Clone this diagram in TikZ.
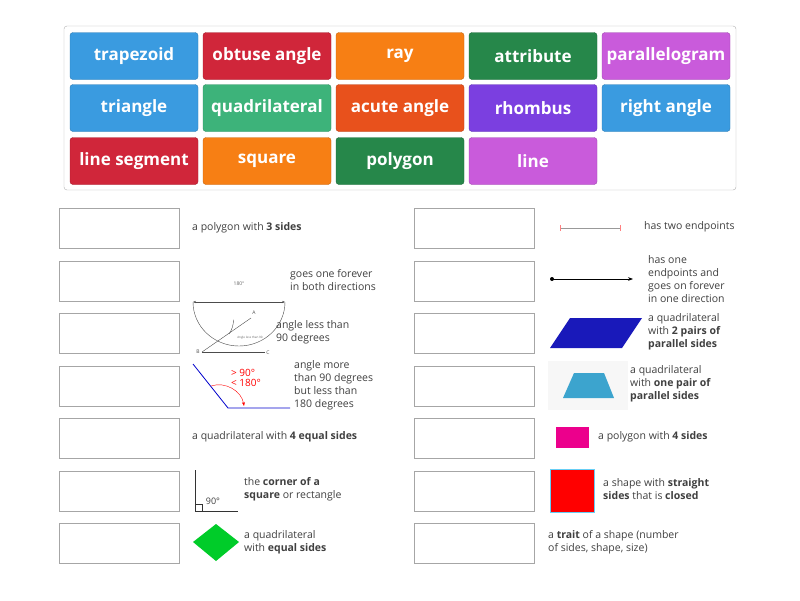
\documentclass[tikz,border=0pt]{standalone}
\usepackage{fontspec}
\setmainfont{Open Sans}
\usetikzlibrary{arrows.meta}
\definecolor{cblue}{HTML}{3A9BE0}
\definecolor{cred}{HTML}{D0263A}
\definecolor{corange}{HTML}{F77F14}
\definecolor{cgreen}{HTML}{26874A}
\definecolor{cviolet}{HTML}{C95BDB}
\definecolor{cteal}{HTML}{3DB37A}
\definecolor{cacute}{HTML}{E8511C}
\definecolor{cpurple}{HTML}{7B3FE0}
\definecolor{txt}{HTML}{404040}
\tikzset{
 tile/.style={draw=#1!80!black,fill=#1,rounded corners=3pt,minimum width=128pt,minimum height=47pt,text=white,font=\fontsize{17}{20}\selectfont\bfseries,inner sep=0pt},
 slot/.style={draw=black!35,minimum width=120pt,minimum height=40pt,inner sep=0pt},
 lbl/.style={text=txt,font=\fontsize{10.5}{13}\selectfont,align=left,anchor=west,inner sep=0pt}
}
\begin{document}
\begin{tikzpicture}[x=1pt,y=-1pt]
\useasboundingbox (0,0) rectangle (800,600);
\fill[white] (0,0) rectangle (800,600);
\draw[black!30,rounded corners=3pt] (64,26) rectangle (736,190);
\foreach \n/\t/\c/\x/\y in {
 a/trapezoid/cblue/134/56, b/obtuse angle/cred/267/56, c/ray/corange/400/56, d/attribute/cgreen/533/56, e/parallelogram/cviolet/666/56,
 f/triangle/cblue/134/108, g/quadrilateral/cteal/267/108, h/acute angle/cacute/400/108, i/rhombus/cpurple/533/108, j/right angle/cblue/666/108,
 k/line segment/cred/134/161, l/square/corange/267/161, m/polygon/cgreen/400/161, n/line/cviolet/533/161}
 {\node[tile=\c] (t\n) at (\x,\y) {\t};}
\foreach \r/\y in {1/228,2/281,3/333,4/386,5/438,6/491,7/543}{
 \node[slot] (L\r) at (119,\y) {};
 \node[slot] (R\r) at (474,\y) {};}
% left labels
\node[lbl] (l1) at (192,228) {a polygon with \textbf{3 sides}};
\draw[black!70] (193,302) arc (180:0:46 and 44);
\draw[black!70,{Stealth[length=3pt]}-{Stealth[length=3pt]}] (193,302) -- (285,302);
\node[font=\tiny,text=black!60] (d180) at (239,284) {180°};
\node[lbl] (l2) at (290,280) {goes one forever\\in both directions};
\draw[black!70] (202,352) -- (265,352);
\draw[black!70] (202,352) -- (251,318);
\draw[black!70] (229,334) arc (35:0:25);
\node[font=\tiny,text=black!70] at (254,313) {A};
\node[font=\tiny,text=black!70] at (198,352) {B};
\node[font=\tiny,text=black!70] at (268,353) {C};
\node[font=\fontsize{3}{3}\selectfont,text=black!60] at (250,338) {Angle less than 90};
\node[lbl] (l3) at (276,332) {angle less than\\90 degrees};
\draw[blue!80!black,thick] (193,364) -- (228,408) -- (290,408);
\draw[red,-{Stealth[length=4pt]}] (211,386) to[bend left=50] (244,406);
\node[text=red,font=\fontsize{10}{10}\selectfont,align=left] at (246,378) {\textgreater\ 90°\\\textless\ 180°};
\node[lbl] (l4) at (294,385) {angle more\\than 90 degrees\\but less than\\180 degrees};
\node[lbl] (l5) at (192,437) {a quadrilateral with \textbf{4 equal sides}};
\draw[black!80] (195,470) -- (195,511) -- (238,511);
\draw[black!80] (195,504) -- (202,504) -- (202,511);
\node[font=\fontsize{9}{9}\selectfont,text=txt] at (213,501) {90°};
\node[lbl] (l6) at (244,489) {the \textbf{corner of a}\\\textbf{square} or rectangle};
\fill[green!80!cyan!80!black] (216,524) -- (239,542) -- (216,561) -- (193,542) -- cycle;
\node[lbl] (l7) at (244,542) {a quadrilateral\\with \textbf{equal sides}};
% right labels
\draw[black!40,thick] (560,228) -- (620,228);
\draw[red!50] (560,225) -- (560,231) (620,225) -- (620,231);
\node[lbl] (r1) at (644,227) {has two endpoints};
\fill[black] (552,279) circle (2pt);
\draw[black,thick,-{Stealth[length=5pt]}] (552,279) -- (633,279);
\node[lbl] (r2) at (648,279) {has one\\endpoints and\\goes on forever\\in one direction};
\fill[blue!60!violet!80!black,fill=blue!70!black!90] (570,318) -- (642,318) -- (622,348) -- (550,348) -- cycle;
\node[lbl] (r3) at (648,332) {a quadrilateral\\with \textbf{2 pairs of}\\\textbf{parallel sides}};
\fill[black!3] (548,361) rectangle (628,410);
\fill[cyan!80!black!90] (574,373) -- (604,373) -- (614,398) -- (563,398) -- cycle;
\node[lbl] (r4) at (630,384) {a quadrilateral\\with \textbf{one pair of}\\\textbf{parallel sides}};
\fill[magenta] (556,427) rectangle (589,448);
\node[lbl] (r5) at (598,437) {a polygon with \textbf{4 sides}};
\draw[cyan!60,fill=red] (550,469) rectangle (594,512);
\node[lbl] (r6) at (603,489) {a shape with \textbf{straight}\\\textbf{sides} that is \textbf{closed}};
\node[lbl] (r7) at (548,542) {a \textbf{trait} of a shape (number\\of sides, shape, size)};
\end{tikzpicture}
\end{document}
